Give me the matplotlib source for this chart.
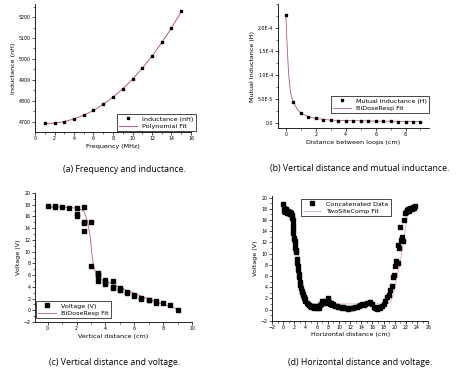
import matplotlib
matplotlib.use("Agg")
import matplotlib.pyplot as plt
import numpy as np
from matplotlib.ticker import MultipleLocator, AutoMinorLocator

# ---------------- data ----------------
# (a) frequency vs inductance
freq_mhz = [1, 2, 3, 4, 5, 6, 7, 8, 9, 10, 11, 12, 13, 14, 15]
induct_nh = [4694, 4694, 4700, 4714, 4733, 4756, 4784, 4819, 4859,
             4904, 4956, 5012, 5079, 5147, 5227]

# (b) distance vs mutual inductance
dist_cm = [0, 0.5, 1, 1.5, 2, 2.5, 3, 3.5, 4, 4.5, 5, 5.5, 6, 6.5, 7,
           7.5, 8, 8.5, 9]
mutual_h = [2.26e-4, 4.4e-5, 2.0e-5, 1.23e-5, 8.9e-6, 6.1e-6, 4.8e-6,
            4.0e-6, 4.0e-6, 3.5e-6, 3.0e-6, 2.6e-6, 2.6e-6, 2.2e-6,
            2.2e-6, 2.0e-6, 2.0e-6, 2.0e-6, 2.0e-6]
fit_b_x = [0, 0.05, 0.1, 0.15, 0.2, 0.3, 0.4, 0.5, 0.75, 1, 1.5, 2, 3, 4,
           6, 9]
fit_b_y = [2.26e-4, 1.85e-4, 1.5e-4, 1.2e-4, 9.5e-5, 6.6e-5, 5.2e-5,
           4.4e-5, 2.8e-5, 2.0e-5, 1.2e-5, 8.5e-6, 5.0e-6, 4.0e-6,
           3.0e-6, 2.0e-6]
b_yticks = [0, 5e-5, 1e-4, 1.5e-4, 2e-4]
b_ylabels = ["0.0", "5.0E-5", "1.0E-4", "1.5E-4", "2.0E-4"]

# (c) vertical distance vs voltage
vdist_cm = [0, 0.5, 0.5, 1, 1.5, 2, 2, 2, 2.5, 2.5, 2.5, 2.5, 3, 3,
            3.5, 3.5, 3.5, 3.5, 4, 4, 4, 4.5, 4.5, 4.5, 5, 5, 5,
            5.5, 5.5, 6, 6, 6.5, 6.5, 7, 7, 7.5, 7.5, 8, 8.5, 9]
vvolt = [17.8, 17.8, 17.6, 17.6, 17.5, 17.5, 16.4, 16.1, 17.6, 15.0,
         14.8, 13.5, 15.0, 7.5, 6.3, 6.0, 5.8, 5.0, 5.2, 4.8, 4.5,
         5.0, 3.9, 3.8, 3.8, 3.5, 3.4, 3.2, 2.9, 2.6, 2.4, 2.1, 1.9,
         1.8, 1.7, 1.5, 1.2, 1.2, 0.9, 0.0]
fit_c_x = [0, 1, 1.5, 2, 2.25, 2.5, 2.75, 2.95, 3.05, 3.2, 3.4, 3.6,
           3.8, 4, 5, 6, 7, 8, 9]
fit_c_y = [17.6, 17.6, 17.55, 17.4, 17.2, 16.9, 15.3, 12.5, 9.8, 7.3,
           5.9, 5.4, 5.15, 5.0, 3.9, 2.9, 1.9, 1.0, 0.2]

# (d) horizontal distance vs voltage
hdist_left = [0, 0.1, 0.2, 0.3, 0.4, 0.5, 0.6, 0.7, 0.8, 0.9, 1.0, 1.1,
              1.2, 1.3, 1.4, 1.5]
hvolt_left = [18.8, 18.2, 17.6, 18.0, 17.4, 17.9, 17.3, 17.7, 17.2, 17.6,
              17.5, 17.3, 17.4, 17.1, 17.3, 16.9]
hdist_fall = [1.6, 1.7, 1.75, 1.8, 1.85, 1.9, 2.0, 2.05, 2.1, 2.2, 2.25,
              2.3, 2.4, 2.5, 2.6, 2.7, 2.8, 2.9, 3.0, 3.1, 3.2, 3.3, 3.4,
              3.5, 3.6, 3.7, 3.8, 3.9, 4.0]
hvolt_fall = [16.4, 16.0, 15.2, 14.4, 13.6, 12.8, 12.6, 12.2, 11.8, 11.0,
              10.6, 10.2, 9.0, 8.4, 7.8, 7.0, 6.4, 5.8, 5.0, 4.4, 3.9,
              3.4, 3.1, 2.8, 2.6, 2.3, 2.0, 1.8, 1.6]
hdist_mid1 = [4.2, 4.4, 4.6, 4.8, 5.0, 5.2, 5.4, 5.6, 5.8, 6.0, 6.2, 6.4,
              6.6, 6.8, 7.0, 7.2, 7.4, 7.6, 7.8, 8.0, 8.2, 8.4, 8.6, 8.8,
              9.0]
hvolt_mid1 = [1.2, 1.0, 0.8, 0.6, 0.5, 0.7, 0.4, 0.3, 0.6, 0.2, 0.5, 0.3,
              0.8, 1.0, 1.5, 1.2, 1.6, 1.1, 1.4, 2.0, 1.3, 1.0, 1.2, 0.8,
              0.9]
hdist_mid2 = [9.3, 9.6, 9.9, 10.2, 10.5, 10.8, 11.1, 11.4, 11.7, 12.0,
              12.3, 12.6, 12.9, 13.2, 13.5, 13.8, 14.1, 14.4, 14.7, 15.0,
              15.3, 15.6, 15.9, 16.2, 16.5, 16.8, 17.1, 17.4, 17.7, 18.0,
              18.3, 18.6, 18.9, 19.2]
hvolt_mid2 = [0.6, 0.7, 0.4, 0.5, 0.3, 0.4, 0.2, 0.3, 0.1, 0.2, 0.3, 0.2,
              0.4, 0.5, 0.6, 0.8, 0.9, 0.8, 1.0, 1.1, 1.2, 1.3, 0.9, 0.5,
              0.2, 0.1, 0.4, 0.2, 0.6, 0.9, 1.5, 2.2, 2.6, 3.5]
hdist_rise = [19.5, 19.7, 19.9, 20.1, 20.3, 20.5, 20.6, 20.8, 21.0, 21.1,
              21.3, 21.5, 21.6, 21.8, 22.0, 22.2, 22.4, 22.6, 22.8, 23.0,
              23.2, 23.4, 23.6]
hvolt_rise = [4.2, 5.8, 6.2, 7.8, 8.7, 11.5, 8.4, 11.0, 14.8, 12.5, 13.0,
              12.2, 16.0, 17.2, 17.5, 17.8, 18.0, 17.6, 18.2, 17.9, 18.4,
              18.1, 18.5]
hdist_cm = hdist_left + hdist_fall + hdist_mid1 + hdist_mid2 + hdist_rise
hvolt = hvolt_left + hvolt_fall + hvolt_mid1 + hvolt_mid2 + hvolt_rise

fit_d_x = [0, 0.5, 1.0, 1.5, 2.0, 2.5, 3.0, 3.5, 4.0, 4.5, 5.0, 6.0,
           10.0, 15.0, 18.5, 19.1, 19.5, 19.8, 20.1, 20.4, 20.7, 21.0,
           21.3, 21.5, 21.7, 21.9, 22.2, 22.5, 23.0, 23.6]
fit_d_y = [18.0, 17.9, 17.6, 17.0, 15.0, 11.0, 6.5, 3.0, 1.8, 1.3,
           1.1, 1.0, 1.0, 1.0, 1.0, 1.2, 2.0, 3.0, 4.4, 5.8, 7.2, 8.6,
           10.5, 11.8, 13.3, 14.7, 16.6, 17.6, 18.1, 18.3]

captions = ["(a) Frequency and inductance.",
            "(b) Vertical distance and mutual inductance.",
            "(c) Vertical distance and voltage.",
            "(d) Horizontal distance and voltage."]

# ---------------- figure ----------------
W, H = 474, 374
fig = plt.figure(figsize=(W / 100, H / 100), dpi=100)
plt.rcParams['font.family'] = ['DejaVu Sans']

fit_col = '#b8587a'
fit_col_d = '#e4a6b6'
tick_fs = 3.4
lab_fs = 4.6
leg_fs = 4.6
ms = 2.0


def px_axes(l, t, r, b):
    return fig.add_axes([l / W, 1 - b / H, (r - l) / W, (b - t) / H])


def style(ax, xmaj, ymaj):
    for s in ['top', 'right']:
        ax.spines[s].set_visible(False)
    for s in ['left', 'bottom']:
        ax.spines[s].set_linewidth(0.6)
    ax.xaxis.set_major_locator(MultipleLocator(xmaj))
    ax.yaxis.set_major_locator(MultipleLocator(ymaj))
    ax.xaxis.set_minor_locator(AutoMinorLocator(2))
    ax.yaxis.set_minor_locator(AutoMinorLocator(2))
    ax.tick_params(which='major', length=2, width=0.5, labelsize=tick_fs,
                   pad=1.2)
    ax.tick_params(which='minor', length=1.2, width=0.4)


def legend(ax, x0, y0):
    leg = ax.legend(loc='upper left', bbox_to_anchor=(x0 / W, 1 - y0 / H),
                    bbox_transform=fig.transFigure, borderaxespad=0,
                    fontsize=leg_fs, fancybox=False, framealpha=1,
                    edgecolor='black', handlelength=2.8, borderpad=0.35,
                    labelspacing=0.25, handletextpad=0.8)
    leg.get_frame().set_linewidth(0.5)
    return leg


# (a)
ax = px_axes(35, 4, 191, 132)
coef = np.polyfit(freq_mhz, induct_nh, 3)
xx = np.linspace(min(freq_mhz), max(freq_mhz), 200)
ax.plot(freq_mhz, induct_nh, 's', color='black', ms=ms,
        label='Inductance (nH)', zorder=3)
ax.plot(xx, np.polyval(coef, xx), '-', color=fit_col, lw=0.7,
        label='Polynomial Fit')
ax.set_xlim(0, 16)
ax.set_ylim(4652, 5262)
style(ax, 2, 100)
ax.set_xlabel('Frequency (MHz)', fontsize=lab_fs, labelpad=1.5)
ax.set_ylabel('Inductance (nH)', fontsize=lab_fs, labelpad=2)
legend(ax, 117, 114)

# (b)
ax = px_axes(277.7, 4, 428.7, 128)
ax.plot(dist_cm, mutual_h, 's', color='black', ms=ms,
        label='Mutual Inductance (H)', zorder=3)
ax.plot(fit_b_x, fit_b_y, '-', color=fit_col, lw=0.6,
        label='BiDoseResp Fit')
ax.set_xlim(-0.55, 9.55)
ax.set_ylim(-1.16e-5, 2.5e-4)
style(ax, 2, 5e-5)
ax.set_yticks(b_yticks)
ax.set_yticklabels(b_ylabels)
ax.set_xlabel('Distance between loops (cm)', fontsize=lab_fs, labelpad=1.5)
ax.set_ylabel('Mutual Inductance (H)', fontsize=lab_fs, labelpad=2)
legend(ax, 331, 96)

# (c)
ax = px_axes(35, 193, 192, 322)
ax.plot(vdist_cm, vvolt, 's', color='black', ms=ms + 0.3,
        label='Voltage (V)', zorder=3)
ax.plot(fit_c_x, fit_c_y, '-', color=fit_col, lw=0.6,
        label='BiDoseResp Fit')
ax.set_xlim(-0.88, 10)
ax.set_ylim(-2, 20)
style(ax, 2, 2)
ax.set_xlabel('Vertical distance (cm)', fontsize=lab_fs, labelpad=1.5)
ax.set_ylabel('Voltage (V)', fontsize=lab_fs, labelpad=2)
legend(ax, 36, 301)

# (d)
ax = px_axes(272, 196, 428.3, 320.7)
ax.plot(hdist_cm, hvolt, 's', color='black', ms=ms + 0.8,
        label='Concatenated Data', zorder=3)
ax.plot(fit_d_x, fit_d_y, '-', color=fit_col_d, lw=0.6,
        label='TwoSiteComp Fit')
ax.set_xlim(-2, 26)
ax.set_ylim(-2, 20.3)
style(ax, 2, 2)
ax.set_xlabel('Horizontal distance (cm)', fontsize=lab_fs, labelpad=1.5)
ax.set_ylabel('Voltage (V)', fontsize=lab_fs, labelpad=2)
legend(ax, 301, 199)

# captions
cap_pos = [(124, 169), (360, 169), (115, 362.5), (360, 362.5)]
for (cx, cy), txt in zip(cap_pos, captions):
    fig.text(cx / W, 1 - cy / H, txt, ha='center', va='center',
             fontsize=6.3, family=['Open Sans', 'DejaVu Sans'])

fig.savefig('out.png', dpi=100)
